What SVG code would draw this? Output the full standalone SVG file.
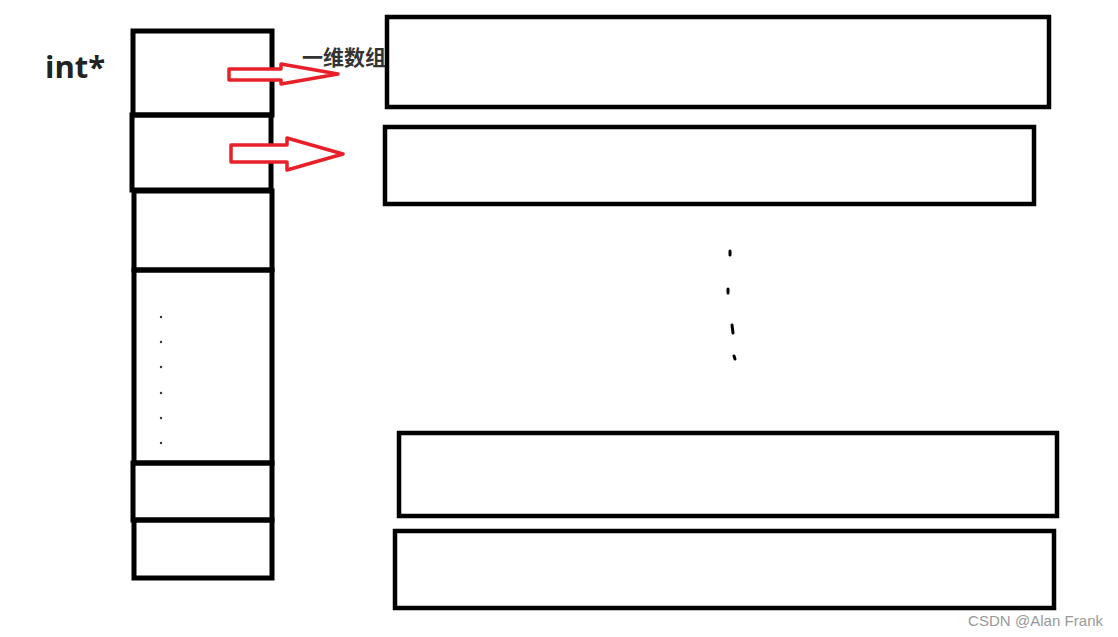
<svg xmlns="http://www.w3.org/2000/svg" width="1118" height="637" viewBox="0 0 1118 637">
<style>
.box{fill:none;stroke:#000;stroke-width:4.5}
.cell{fill:none;stroke:#000;stroke-width:5}
.arr{fill:#fff;stroke:#e8202a;stroke-width:3.5;stroke-linejoin:round}
.dot{fill:#333}
.tick{stroke:#000;stroke-width:3;stroke-linecap:round}
</style>
<rect width="1118" height="637" fill="#fff"/>
<text x="45" y="78" font-family="Open Sans, Liberation Sans, sans-serif" font-weight="bold" font-size="31" fill="#222">int*</text>
<g id="col">
<rect id="c1" class="cell" x="133" y="31" width="139" height="84"/>
<rect id="c2" class="cell" x="132" y="115" width="139" height="75"/>
<rect id="c3" class="cell" x="134" y="191" width="138" height="79"/>
<rect id="c4" class="cell" x="134" y="270" width="138" height="193"/>
<rect id="c5" class="cell" x="133" y="463" width="139" height="57"/>
<rect id="c6" class="cell" x="134" y="520" width="138" height="58"/>
<g class="dot">
<circle cx="161" cy="317" r="1.2"/><circle cx="161" cy="342" r="1.2"/><circle cx="161" cy="367" r="1.2"/>
<circle cx="161" cy="393" r="1.2"/><circle cx="161" cy="418" r="1.2"/><circle cx="161" cy="443" r="1.2"/>
</g>
</g>
<g id="rows">
<rect id="r1" class="box" x="387" y="17" width="662" height="90"/>
<rect id="r2" class="box" x="385" y="127" width="649" height="77"/>
<rect id="r3" class="box" x="399" y="433" width="658" height="83"/>
<rect id="r4" class="box" x="395" y="531" width="659" height="77"/>
<g>
<line class="tick" x1="730" y1="251" x2="730" y2="255"/>
<line class="tick" x1="728" y1="289" x2="728" y2="293"/>
<line class="tick" x1="732" y1="325" x2="733" y2="333"/>
<line class="tick" x1="734" y1="356" x2="735" y2="359"/>
</g>
</g>
<g id="connectors">
<polygon class="arr" points="229,69 281,69 281,64 338,74 281,84 281,80 229,80"/>
<polygon class="arr" points="231,145 287,145 287,138 343,154 287,170 287,162 231,162"/>
</g>
<text x="302" y="65" font-family="Noto Sans CJK SC, sans-serif" font-weight="bold" font-size="21" fill="#333">一维数组</text>
<text x="968" y="626" font-family="Liberation Sans, Arial, sans-serif" font-size="15" fill="#999" textLength="135">CSDN @Alan Frank</text>
</svg>
